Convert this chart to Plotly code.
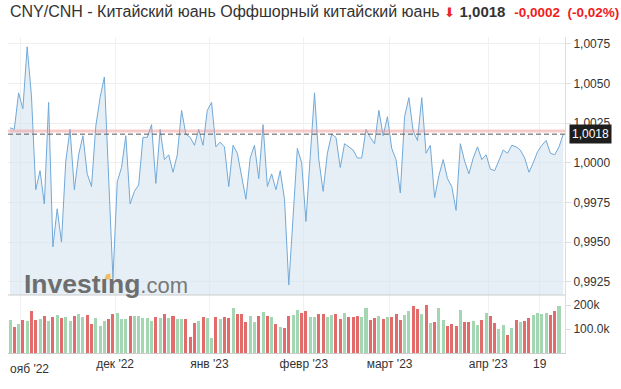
import plotly.graph_objects as go

# ---- data ----
price = [
    1.0022, 1.0021, 1.0044, 1.0034, 1.0073, 1.0042, 0.9983, 0.9995, 0.9974, 1.0038,
    0.9947, 0.9971, 0.9950, 1.0001, 1.0021, 0.9983, 1.0005, 1.0017, 0.9993, 0.9985,
    1.0023, 1.0041, 1.0054, 0.9989, 0.9927, 0.9988, 0.9997, 1.0017, 0.9974, 0.9982,
    0.9986, 1.0016, 1.0016, 1.0024, 0.9987, 1.0021, 1.0002, 1.0005, 0.9994, 1.0005,
    1.0033, 1.0018, 1.0016, 1.0011, 1.0021, 1.0011, 1.0033, 1.0038, 1.0010, 1.0013,
    1.0010, 0.9985, 1.0011, 1.0006, 0.9991, 0.9977, 1.0003, 1.0011, 0.9990, 1.0024,
    0.9985, 0.9993, 0.9983, 0.9995, 0.9977, 0.9923, 0.9966, 1.0009, 1.0000, 0.9963,
    1.0004, 1.0044, 1.0002, 0.9982, 1.0006, 1.0018, 1.0016, 0.9997, 1.0012, 1.0010,
    1.0008, 1.0003, 1.0003, 1.0021, 1.0016, 1.0012, 1.0033, 1.0017, 1.0029, 1.0009,
    1.0002, 0.9981, 1.0029, 1.0041, 1.0020, 1.0014, 1.0041, 1.0006, 1.0011, 0.9978,
    0.9992, 1.0002, 0.9990, 0.9985, 0.9970, 1.0012, 1.0001, 0.9993, 1.0003, 1.0010,
    1.0002, 1.0005, 0.9996, 0.9995, 1.0002, 1.0008, 1.0006, 1.0011, 1.0010, 1.0008,
    1.0003, 0.9994, 1.0000, 1.0007, 1.0011, 1.0014, 1.0006, 1.0005, 1.0010, 1.0018,
]

volume_k = [
    136, 107, 119, 136, 132, 175, 136, 140, 153, 132,
    149, 157, 144, 149, 132, 153, 161, 149, 157, 119,
    144, 111, 132, 140, 161, 165, 140, 140, 153, 153,
    153, 144, 144, 132, 149, 144, 161, 144, 153, 140,
    140, 140, 65, 124, 132, 149, 144, 61, 149, 140,
    149, 144, 186, 161, 161, 128, 153, 128, 153, 170,
    153, 149, 119, 107, 103, 153, 157, 178, 165, 174,
    149, 149, 161, 161, 149, 157, 161, 140, 165, 149,
    149, 153, 149, 186, 136, 144, 153, 140, 149, 149,
    161, 136, 157, 174, 195, 182, 161, 199, 124, 128,
    186, 136, 111, 119, 111, 178, 128, 128, 132, 115,
    136, 165, 153, 124, 99, 115, 74, 103, 136, 128,
    132, 144, 157, 165, 161, 165, 157, 174, 195,
]

volume_dir = list(
    "GRGRGRRGRG" "RGRGGRGGRR" "GGGRRGGGRG" "GGGGRGRGRG"
    "GRRRGRGGRG" "RRGRRRGGRG" "RGRGRRGGRR" "GGRRGGRRGR"
    "RRGGRRGRGR" "RRGGRRGRGR" "GGRRRGRRGG" "RGRRGGRGRG"
    "RRGGGGRRG"
)

x_tick_pos = [2.5, 24.5, 46.5, 68.5, 88.5, 111.5, 123.5]
x_tick_text = ["", "дек '22", "янв '23", "февр '23", "март '23", "апр '23", "19"]
first_month_label = "ояб '22"

y_tick_vals = [0.9925, 0.9950, 0.9975, 1.0000, 1.0025, 1.0050, 1.0075]
y_tick_text = ["0,9925", "0,9950", "0,9975", "1,0000", "1,0025", "1,0050", "1,0075"]
vol_tick_vals = [100, 200]
vol_tick_text = ["100.0k", "200k"]

last_price = 1.0018
prev_close = 1.0020
title_name = "CNY/CNH - Китайский юань Оффшорный китайский юань"
title_price = "1,0018"
title_change = "-0,0002"
title_change_pct = "(-0,02%)"

# ---- figure ----
FONT = "Liberation Sans, Arial, sans-serif"
GREEN = "#a4d6b4"
RED = "#e26c6c"

idx_price = list(range(len(price)))
idx_vol = list(range(len(volume_k)))

fig = go.Figure()
fig.add_trace(go.Scatter(
    x=idx_price, y=price, mode="lines",
    line=dict(color="#72a9d8", width=1),
    fill="tozeroy", fillcolor="rgba(212,228,239,0.6)",
    xaxis="x", yaxis="y", hoverinfo="skip",
))
fig.add_trace(go.Bar(
    x=idx_vol, y=volume_k,
    marker=dict(color=[GREEN if d == "G" else RED for d in volume_dir], line=dict(width=0)),
    width=0.7, xaxis="x", yaxis="y2", hoverinfo="skip",
))

split = 58 / 316


def px_x(p):  # pixel -> paper x
    return (p - 8) / 557


def px_y(p):  # pixel -> paper y
    return (353 - p) / 316


fig.update_layout(
    width=621, height=389,
    margin=dict(l=8, r=56, t=37, b=36),
    paper_bgcolor="white", plot_bgcolor="white",
    showlegend=False, bargap=0,
    font=dict(family=FONT, size=12, color="#333333"),
    xaxis=dict(
        domain=[0, 1], anchor="y2", range=[-0.47, 129.4],
        tickvals=x_tick_pos, ticktext=x_tick_text,
        showgrid=True, gridcolor="#f1f1f1", gridwidth=1,
        showline=True, linecolor="#cccccc", linewidth=1,
        ticks="", zeroline=False, tickfont=dict(size=12, color="#333333"),
    ),
    yaxis=dict(
        domain=[split, 1], range=[0.99167, 1.00792], side="right",
        tickvals=y_tick_vals, ticktext=y_tick_text,
        showgrid=True, gridcolor="#eeeeee", zeroline=False,
        showline=True, linecolor="#dddddd",
        ticks="outside", ticklen=5, tickcolor="#dddddd",
        tickfont=dict(size=12, color="#333333"),
    ),
    yaxis2=dict(
        domain=[0, split], range=[0, 241.7], side="right",
        tickvals=vol_tick_vals, ticktext=vol_tick_text,
        showgrid=False, zeroline=False,
        showline=True, linecolor="#dddddd",
        ticks="outside", ticklen=5, tickcolor="#dddddd",
        tickfont=dict(size=12, color="#333333"),
    ),
    shapes=[
        dict(type="line", xref="paper", yref="paper", x0=0, x1=1, y0=split, y1=split,
             line=dict(color="#cccccc", width=1)),
        dict(type="line", xref="paper", yref="y", x0=0, x1=1, y0=prev_close, y1=prev_close,
             line=dict(color="rgba(240,140,140,0.45)", width=3)),
        dict(type="line", xref="paper", yref="y", x0=0, x1=1, y0=last_price, y1=last_price,
             line=dict(color="#555555", width=1, dash="5px,3px")),
        # orange dot of the watermark "i"
        dict(type="path", xref="paper", yref="paper", layer="above",
             path=(f"M {px_x(104.5)} {px_y(279.5)} L {px_x(110.5)} {px_y(279.5)} "
                   f"L {px_x(110.5)} {px_y(273.5)} L {px_x(106)} {px_y(274.5)} Z"),
             fillcolor="#f2bb5e", line=dict(width=0)),
    ],
    annotations=[
        dict(xref="paper", yref="paper", x=0, y=1 + 36 / 316, xanchor="left", yanchor="top",
             showarrow=False, align="left",
             text=(title_name + " "
                   "<span style='color:#e8262b;font-size:13px'>⬇</span>&nbsp;"
                   f"<b><span style='font-size:15px'>{title_price}</span></b>&nbsp;&nbsp;"
                   f"<b><span style='color:#f01c1c;font-size:13.5px'>{title_change}&nbsp;&nbsp;{title_change_pct}</span></b>"),
             font=dict(family=FONT, size=16, color="#333333")),
        dict(xref="paper", yref="y", x=1, y=last_price, xanchor="left", yanchor="middle",
             xshift=4, showarrow=False, text="1,0018", bgcolor="#1e1e1e", borderpad=2,
             font=dict(family=FONT, size=12, color="white")),
        dict(xref="paper", yref="paper", x=0, y=-16 / 316, xanchor="left", yanchor="middle",
             showarrow=False, text=first_month_label,
             font=dict(family=FONT, size=12, color="#333333")),
        dict(xref="paper", yref="paper", x=px_x(22), y=split, xanchor="left", yanchor="bottom",
             yshift=-6, showarrow=False,
             text="<b>Investıng</b><span style='font-size:22px;color:#787878'>.com</span>",
             font=dict(family=FONT, size=26.5, color="#6e6e6e")),
    ],
)

fig.write_html("out.html", config={"displayModeBar": False},
               post_script="document.body.style.margin='0';")
